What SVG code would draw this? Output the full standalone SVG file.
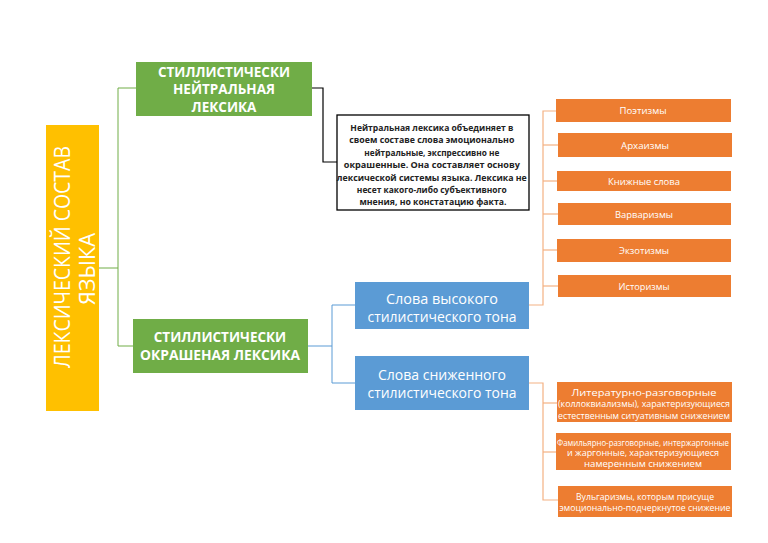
<svg xmlns="http://www.w3.org/2000/svg" width="768" height="543" viewBox="0 0 768 543">
<style>
.t{font-family:"Open Sans","Liberation Sans",sans-serif;fill:#fff;text-anchor:middle;dominant-baseline:central}
.g{fill:#70AD47}
.b{fill:#5B9BD5}
.o{fill:#ED7D31}
.gl{stroke:#70AD47;fill:none;stroke-width:1}
.bl{stroke:#5B9BD5;fill:none;stroke-width:1}
.ol{stroke:#F4B183;fill:none;stroke-width:1.2}
.kl{stroke:#000;fill:none;stroke-width:1.2}
.sm{font-size:8.5px}
.lb{font-size:9px}
.tx{font-family:"Open Sans","Liberation Sans",sans-serif;font-size:9px;font-weight:bold;fill:#222;text-anchor:middle;dominant-baseline:central}
</style>
<rect width="768" height="543" fill="#fff"/>
<g id="connectors">
<polyline class="gl" points="99,268 118,268"/>
<polyline class="gl" points="136,88 118,88 118,346 133,346"/>
<polyline class="kl" points="312,88 323,88 323,162 337,162"/>
<polyline class="bl" points="308,346 332,346"/>
<polyline class="bl" points="355,305 332,305 332,383 355,383"/>
<polyline class="ol" points="529,305 543,305 543,111 556,111"/>
<line class="ol" x1="543" y1="145" x2="558" y2="145"/>
<line class="ol" x1="543" y1="181" x2="557" y2="181"/>
<line class="ol" x1="543" y1="214" x2="558" y2="214"/>
<line class="ol" x1="543" y1="250" x2="557" y2="250"/>
<line class="ol" x1="543" y1="286" x2="558" y2="286"/>
<polyline class="ol" points="529,383 543,383 543,500 558,500"/>
<line class="ol" x1="543" y1="403" x2="557" y2="403"/>
<line class="ol" x1="543" y1="452" x2="556" y2="452"/>
</g>
<g id="root">
<rect x="46" y="125" width="53" height="286" fill="#FFC000"/>
<text class="t" transform="translate(70,257) rotate(-90)" dominant-baseline="auto" style="dominant-baseline:auto" font-size="21" textLength="222" lengthAdjust="spacingAndGlyphs">ЛЕКСИЧЕСКИЙ СОСТАВ</text>
<text class="t" transform="translate(95,269) rotate(-90)" style="dominant-baseline:auto" font-size="21" textLength="72" lengthAdjust="spacingAndGlyphs">ЯЗЫКА</text>
</g>
<g id="neutral">
<rect class="g" x="136" y="62" width="176" height="54"/>
<text class="t" font-size="13.5" font-weight="bold"><tspan x="224" y="72" textLength="132" lengthAdjust="spacingAndGlyphs">СТИЛЛИСТИЧЕСКИ</tspan><tspan x="224" y="89">НЕЙТРАЛЬНАЯ</tspan><tspan x="224" y="107">ЛЕКСИКА</tspan></text>
</g>
<g id="colored">
<rect class="g" x="133" y="319" width="175" height="54"/>
<text class="t" font-size="13.5" font-weight="bold"><tspan x="220" y="337">СТИЛЛИСТИЧЕСКИ</tspan><tspan x="220" y="355" textLength="160" lengthAdjust="spacingAndGlyphs">ОКРАШЕНАЯ ЛЕКСИКА</tspan></text>
</g>
<g id="desc">
<rect x="337" y="115" width="192" height="95" fill="#fff" stroke="#000" stroke-width="1.3"/>
<text class="tx">
<tspan x="433" y="127" textLength="163" lengthAdjust="spacingAndGlyphs">Нейтральная лексика объединяет в</tspan>
<tspan x="433" y="139" textLength="165" lengthAdjust="spacingAndGlyphs">своем составе слова эмоционально</tspan>
<tspan x="433" y="152" textLength="135" lengthAdjust="spacingAndGlyphs">нейтральные, экспрессивно не</tspan>
<tspan x="433" y="164" textLength="176" lengthAdjust="spacingAndGlyphs">окрашенные. Она составляет основу</tspan>
<tspan x="433" y="177" textLength="190" lengthAdjust="spacingAndGlyphs">лексической системы языка. Лексика не</tspan>
<tspan x="433" y="189" textLength="150" lengthAdjust="spacingAndGlyphs">несет какого-либо субъективного</tspan>
<tspan x="433" y="201" textLength="147" lengthAdjust="spacingAndGlyphs">мнения, но констатацию факта.</tspan>
</text>
</g>
<g id="high">
<rect class="b" x="355" y="282" width="174" height="47"/>
<text class="t" font-size="14"><tspan x="442" y="298" textLength="112" lengthAdjust="spacingAndGlyphs">Слова высокого</tspan><tspan x="442" y="316" textLength="149" lengthAdjust="spacingAndGlyphs">стилистического тона</tspan></text>
</g>
<g id="low">
<rect class="b" x="355" y="356" width="174" height="54"/>
<text class="t" font-size="14"><tspan x="442" y="374" textLength="128" lengthAdjust="spacingAndGlyphs">Слова сниженного</tspan><tspan x="442" y="392" textLength="149" lengthAdjust="spacingAndGlyphs">стилистического тона</tspan></text>
</g>
<g id="poet"><rect class="o" x="556" y="99" width="175" height="23"/><text class="t lb" x="643" y="110.5" textLength="47" lengthAdjust="spacingAndGlyphs">Поэтизмы</text></g>
<g id="arch"><rect class="o" x="558" y="133" width="174" height="24"/><text class="t lb" x="645" y="145" textLength="48" lengthAdjust="spacingAndGlyphs">Архаизмы</text></g>
<g id="book"><rect class="o" x="557" y="171" width="174" height="20"/><text class="t lb" x="644" y="181" textLength="72" lengthAdjust="spacingAndGlyphs">Книжные слова</text></g>
<g id="barb"><rect class="o" x="558" y="203" width="173" height="22"/><text class="t lb" x="644" y="214" textLength="58" lengthAdjust="spacingAndGlyphs">Варваризмы</text></g>
<g id="exot"><rect class="o" x="557" y="239" width="174" height="23"/><text class="t lb" x="644" y="250.5" textLength="50" lengthAdjust="spacingAndGlyphs">Экзотизмы</text></g>
<g id="hist"><rect class="o" x="558" y="275" width="173" height="22"/><text class="t lb" x="644" y="286" textLength="51" lengthAdjust="spacingAndGlyphs">Историзмы</text></g>
<g id="lit"><rect class="o" x="557" y="382" width="175" height="40"/><text class="t sm"><tspan x="644" y="392" textLength="145" lengthAdjust="spacingAndGlyphs">Литературно-разговорные</tspan><tspan x="644" y="403" textLength="172" lengthAdjust="spacingAndGlyphs">(коллоквиализмы), характеризующиеся</tspan><tspan x="644" y="415" textLength="172" lengthAdjust="spacingAndGlyphs">естественным ситуативным снижением</tspan></text></g>
<g id="fam"><rect class="o" x="556" y="433" width="175" height="37"/><text class="t sm" font-size="8"><tspan x="643" y="442" textLength="172" lengthAdjust="spacingAndGlyphs">Фамильярно-разговорные, интержаргонные</tspan><tspan x="643" y="452" textLength="152" lengthAdjust="spacingAndGlyphs">и жаргонные, характеризующиеся</tspan><tspan x="643" y="463" textLength="118" lengthAdjust="spacingAndGlyphs">намеренным снижением</tspan></text></g>
<g id="vulg"><rect class="o" x="558" y="486" width="174" height="31"/><text class="t sm"><tspan x="645" y="496" textLength="138" lengthAdjust="spacingAndGlyphs">Вульгаризмы, которым присуще</tspan><tspan x="645" y="507" textLength="171" lengthAdjust="spacingAndGlyphs">эмоционально-подчеркнутое снижение</tspan></text></g>
</svg>
